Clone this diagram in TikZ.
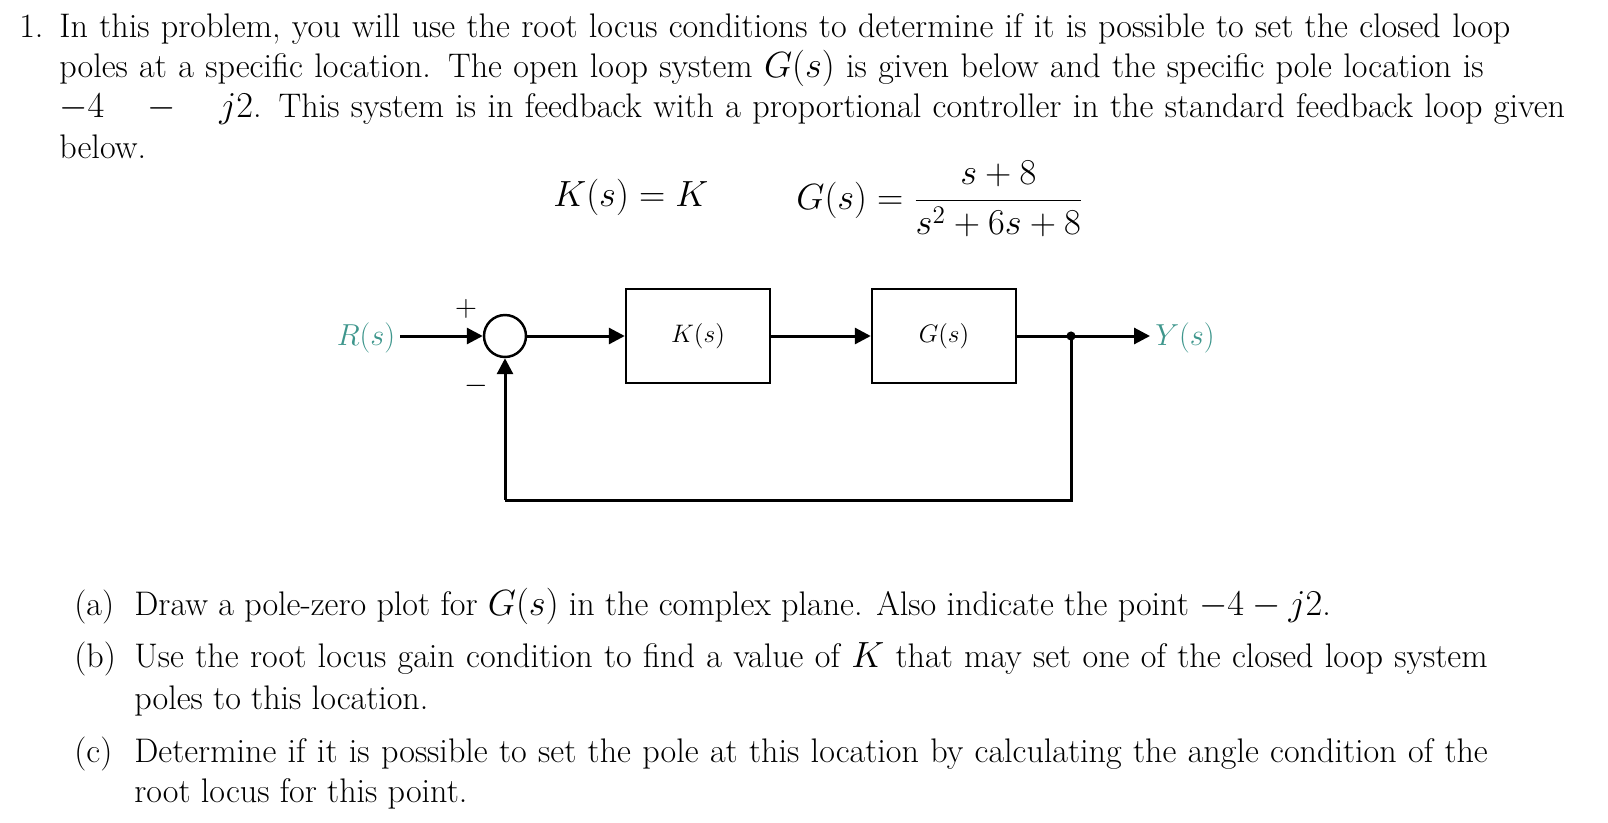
\documentclass[tikz,border=0pt]{standalone}
\usepackage{amsmath}
\usetikzlibrary{arrows.meta}
\definecolor{teal2}{RGB}{62,150,140}
\newcommand{\jline}[1]{\makebox[\linewidth][s]{#1}}
\begin{document}
\begin{tikzpicture}[x=0.02cm,y=-0.02cm,
  txt/.style={anchor=base west,inner sep=0pt,font=\fontsize{19.4}{23.3}\selectfont},
  blk/.style={draw,line width=1.4pt,minimum width=2.88cm,minimum height=1.88cm,inner sep=0pt,font=\fontsize{15}{18}\selectfont},
  sig/.style={line width=1.7pt,-{Triangle[length=9pt,width=9pt]}},
  wire/.style={line width=1.7pt}]
\useasboundingbox (0,0) rectangle (1608,822);
% paragraph
\node[txt] (n1) at (19,37) {1.};
\node[txt,text width=30.12cm] (l1) at (59,37) {\jline{In this problem, you will use the root locus conditions to determine if it is possible to set the closed loop}};
\node[txt,text width=30.12cm] (l2) at (59,77) {\jline{poles at a specific location. The open loop system $G(s)$ is given below and the specific pole location is}};
\node[txt,text width=30.12cm] (l3) at (59,117) {\jline{$-4-j2$. This system is in feedback with a proportional controller in the standard feedback loop given}};
\node[txt] (l4) at (59,158) {below.};
% equations
\node[txt] (eqK) at (553,206) {$K(s)=K$};
\node[anchor=west,inner sep=0pt,font=\fontsize{19.4}{23.3}\selectfont] (eqG) at (796,199) {$G(s)=\dfrac{s+8}{s^2+6s+8}$};
% block diagram
\node[inner sep=0pt,text=teal2,font=\fontsize{18}{22}\selectfont] (R) at (366,338) {$R(s)$};
\node[draw,circle,line width=1.4pt,minimum size=0.84cm,inner sep=0pt] (sum) at (505,336) {};
\node[inner sep=0pt,font=\fontsize{16}{18}\selectfont] (plus) at (466,309) {$+$};
\node[inner sep=0pt,font=\fontsize{16}{18}\selectfont] (minus) at (476,386) {$-$};
\node[blk] (K) at (698,336) {$K(s)$};
\node[blk] (G) at (944,336) {$G(s)$};
\coordinate (br) at (1071,336);
\node[inner sep=0pt,text=teal2,font=\fontsize{18}{22}\selectfont,anchor=west] (Y) at (1155,338) {$Y(s)$};
\coordinate (yend) at (1150,336);
\coordinate (fb1) at (1071,500);
\coordinate (fb2) at (505,500);
\draw[sig] (400,336) -- (sum.west);
\draw[sig] (sum.east) -- (K.west);
\draw[sig] (K.east) -- (G.west);
\draw[wire] (G.east) -- (br);
\draw[sig] (br) -- (yend);
\fill (br) circle (2.6pt);
\draw[wire] (br) -- (fb1) -- (fb2);
\draw[sig] (fb2) -- (sum.south);
% items
\node[txt] (la) at (74,615) {(a)};
\node[txt] (ta) at (134,615) {Draw a pole-zero plot for $G(s)$ in the complex plane. Also indicate the point $-4-j2$.};
\node[txt] (lb) at (74,667) {(b)};
\node[txt,text width=28.62cm] (tb1) at (134,667) {\jline{Use the root locus gain condition to find a value of $K$ that may set one of the closed loop system}};
\node[txt] (tb2) at (134,709) {poles to this location.};
\node[txt] (lc) at (74,762) {(c)};
\node[txt,text width=28.62cm] (tc1) at (134,762) {\jline{Determine if it is possible to set the pole at this location by calculating the angle condition of the}};
\node[txt] (tc2) at (134,802) {root locus for this point.};
\end{tikzpicture}
\end{document}
